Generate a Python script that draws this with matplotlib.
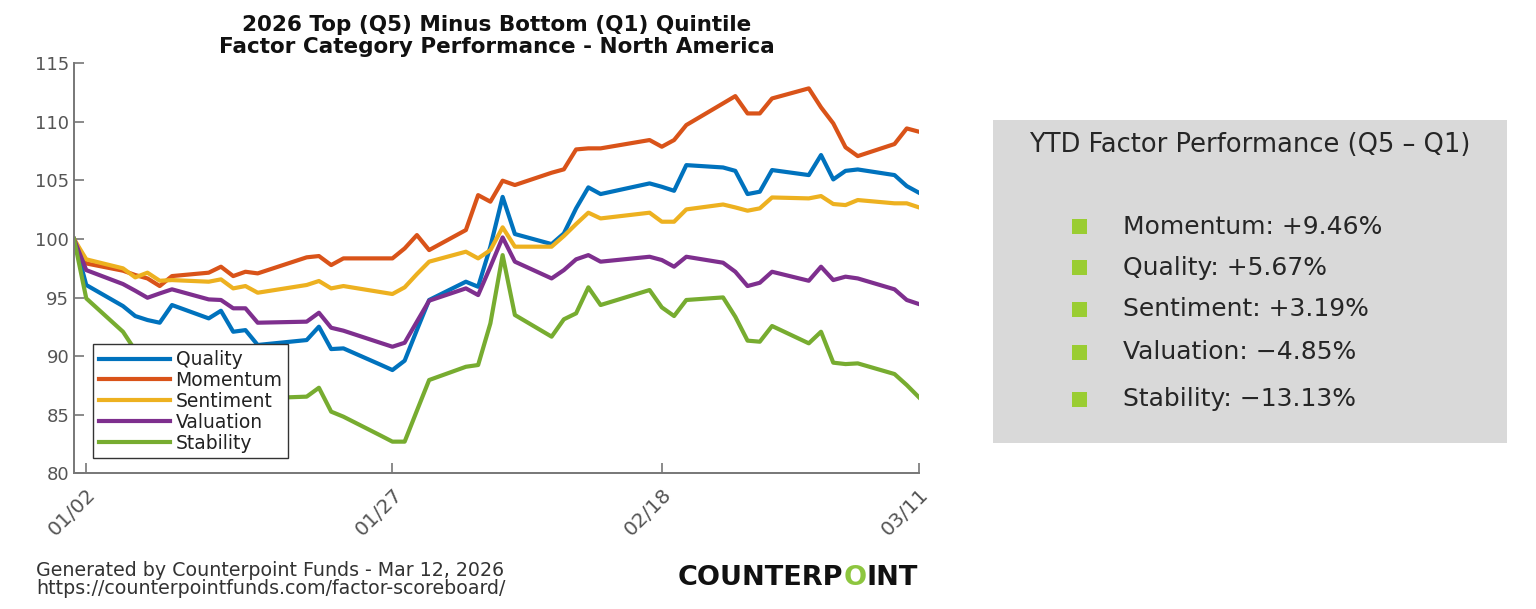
import matplotlib
matplotlib.use('Agg')
import matplotlib.pyplot as plt
from matplotlib.patches import Rectangle
from datetime import datetime

# trading days (plus the Jan 1 base point), 2026
dates = ['01-01', '01-02', '01-05', '01-06', '01-07', '01-08', '01-09', '01-12', '01-13', '01-14',
         '01-15', '01-16', '01-20', '01-21', '01-22', '01-23', '01-26', '01-27', '01-28', '01-29',
         '01-30', '02-02', '02-03', '02-04', '02-05', '02-06', '02-09', '02-10', '02-11', '02-12',
         '02-13', '02-17', '02-18', '02-19', '02-20', '02-23', '02-24', '02-25', '02-26', '02-27',
         '03-02', '03-03', '03-04', '03-05', '03-06', '03-09', '03-10', '03-11']

quality = [100, 96.08, 94.28, 93.43, 93.09, 92.86, 94.37, 93.23, 93.88, 92.09, 92.23, 90.96,
           91.38, 92.52, 90.61, 90.67, 89.29, 88.82, 89.62, 92.24, 94.8, 96.36, 95.93, 99.35,
           103.6, 100.43, 99.57, 100.48, 102.62, 104.41, 103.84, 104.75, 104.46, 104.12, 106.31,
           106.11, 105.82, 103.84, 104.04, 105.89, 105.46, 107.17, 105.09, 105.82, 105.94,
           105.46, 104.52, 103.95]
momentum = [100, 97.92, 97.3, 96.93, 96.64, 95.99, 96.84, 97.13, 97.64, 96.84, 97.21, 97.07,
            98.44, 98.55, 97.78, 98.35, 98.35, 98.35, 99.2, 100.34, 99.06, 100.77, 103.75, 103.19,
            104.98, 104.61, 105.66, 105.95, 107.65, 107.74, 107.74, 108.45, 107.88, 108.45, 109.73,
            111.58, 112.2, 110.72, 110.72, 112.0, 112.86, 111.24, 109.87, 107.83, 107.08, 108.11,
            109.44, 109.16]
sentiment = [100, 98.27, 97.5, 96.73, 97.13, 96.44, 96.5, 96.36, 96.56, 95.79, 95.99, 95.42,
             96.08, 96.42, 95.79, 95.99, 95.48, 95.31, 95.88, 97.01, 98.07, 98.92, 98.35, 99.06,
             101.0, 99.35, 99.35, 100.26, 101.28, 102.25, 101.76, 102.25, 101.48, 101.48, 102.53,
             102.95, 102.7, 102.42, 102.62, 103.55, 103.47, 103.67, 102.99, 102.9, 103.33, 103.05,
             103.05, 102.7]
valuation = [100, 97.35, 96.16, 95.59, 94.99, 95.36, 95.71, 94.85, 94.8, 94.09, 94.09, 92.86,
             92.95, 93.71, 92.43, 92.18, 91.15, 90.81, 91.15, 92.95, 94.74, 95.79, 95.22, 97.64,
             100.14, 98.07, 96.64, 97.35, 98.27, 98.63, 98.07, 98.49, 98.21, 97.64, 98.49,
             97.98, 97.21, 95.99, 96.27, 97.21, 96.44, 97.64, 96.5, 96.79, 96.64, 95.71, 94.8, 94.45]
stability = [100, 94.94, 92.09, 90.5, 89.6, 88.9, 89.3, 88.0, 88.4, 87.3, 87.0, 86.4,
             86.55, 87.31, 85.27, 84.84, 83.25, 82.71, 82.71, 85.35, 87.97, 89.1, 89.25, 92.8,
             98.63, 93.52, 91.67, 93.15, 93.66, 95.88, 94.37, 95.65, 94.17, 93.43, 94.8,
             95.02, 93.37, 91.33, 91.24, 92.58, 91.1, 92.09, 89.45, 89.33, 89.39, 88.48, 87.54, 86.49]

names = ['Quality', 'Momentum', 'Sentiment', 'Valuation', 'Stability']
series = [quality, momentum, sentiment, valuation, stability]
colors = ['#0072BD', '#D95319', '#EDB120', '#7E2F8E', '#77AC30']

tick_dates = ['01-02', '01-27', '02-18', '03-11']
tick_labels = ['01/02', '01/27', '02/18', '03/11']
y_ticks = [80, 85, 90, 95, 100, 105, 110, 115]

ytd_labels = ['Momentum', 'Quality', 'Sentiment', 'Valuation', 'Stability']
ytd_values = ['+9.46%', '+5.67%', '+3.19%', '\u22124.85%', '\u221213.13%']

plt.rcParams['font.family'] = ['DejaVu Sans']

W, H = 1536, 609
fig = plt.figure(figsize=(W / 100, H / 100), dpi=100)


def fx(x):
    return x / W


def fy(y):
    return 1 - y / H


def to_date(s):
    return datetime.strptime('2026-' + s, '%Y-%m-%d')


# main chart
ax = fig.add_axes([fx(74), fy(473.4), (919 - 74) / W, (473.4 - 63.3) / H])
x = [to_date(d) for d in dates]
for name, vals, col in zip(names, series, colors):
    ax.plot(x, vals, color=col, lw=3, label=name)

ax.set_xlim(to_date('01-01'), to_date('03-11'))
ax.set_ylim(80, 115)
ax.set_yticks(y_ticks)
ax.set_xticks([to_date(d) for d in tick_dates])
ax.set_xticklabels(tick_labels, rotation=45, ha='right', rotation_mode='anchor')
ax.tick_params(direction='in', length=7, width=1.2, colors='#777777',
               labelcolor='#555555', labelsize=13)
ax.tick_params(axis='x', labelsize=14.5, pad=8)
for side in ['top', 'right']:
    ax.spines[side].set_visible(False)
for side in ['left', 'bottom']:
    ax.spines[side].set_color('#777777')
    ax.spines[side].set_linewidth(1.4)

leg = ax.legend(loc='lower left', bbox_to_anchor=(0.0225, 0.037), borderaxespad=0,
                fontsize=13.5, handlelength=3.8, handletextpad=0.3, labelspacing=0.1,
                borderpad=0.3, fancybox=False, framealpha=1)
leg.get_frame().set_edgecolor('#333333')
leg.get_frame().set_linewidth(1.0)
for t in leg.get_texts():
    t.set_color('#222222')

fig.text(fx(496.5), fy(25), '2026 Top (Q5) Minus Bottom (Q1) Quintile', ha='center', va='center',
         fontsize=15.5, fontweight='bold', color='#111111')
fig.text(fx(496.5), fy(47), 'Factor Category Performance - North America', ha='center', va='center',
         fontsize=15.5, fontweight='bold', color='#111111')

# footer
narrow = ['Liberation Sans Narrow', 'DejaVu Sans']
fig.text(fx(36), fy(570), 'Generated by Counterpoint Funds - Mar 12, 2026', va='center',
         fontsize=13.7, color='#333333', family=narrow)
fig.text(fx(36), fy(589), 'https://counterpointfunds.com/factor-scoreboard/', va='center',
         fontsize=13.7, color='#333333', family=narrow)

# logo, with the green O
r = fig.canvas.get_renderer()
xpos = fx(678)
for part, col in [('COUNTERP', '#111111'), ('O', '#8DC63F'), ('INT', '#111111')]:
    t = fig.text(xpos, fy(578), part, color=col, fontsize=19.5, fontweight='heavy',
                 va='center', ha='left')
    xpos += t.get_window_extent(renderer=r).width / W

# YTD panel
fig.patches.append(Rectangle((fx(993), fy(443)), (1507 - 993) / W, (443 - 120) / H,
                             transform=fig.transFigure, facecolor='#D9D9D9', edgecolor='none'))
fig.text(fx(1250), fy(145), 'YTD Factor Performance (Q5 \u2013 Q1)', ha='center', va='center',
         fontsize=18.5, color='#262626')
row_y = [227, 268, 309, 352, 399]
for lab, val, yy in zip(ytd_labels, ytd_values, row_y):
    fig.patches.append(Rectangle((fx(1072), fy(yy + 7.5)), 15 / W, 15 / H,
                                 transform=fig.transFigure, facecolor='#9ACD32', edgecolor='none'))
    fig.text(fx(1123), fy(yy), lab + ': ' + val, ha='left', va='center',
             fontsize=18, color='#262626')

fig.savefig('out.png', dpi=100)
